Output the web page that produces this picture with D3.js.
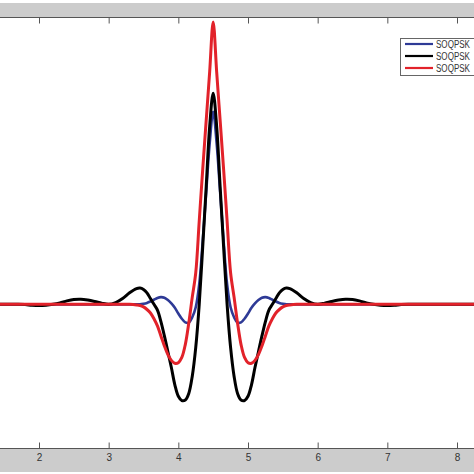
<!DOCTYPE html>
<html>
<head>
<meta charset="utf-8">
<script src="https://cdn.jsdelivr.net/npm/d3@7"></script>
<style>
  body { margin:0; padding:0; background:#fff; }
  svg { display:block; font-family:"Liberation Sans", Arial, sans-serif; }
</style>
</head>
<body>
<svg id="chart"></svg>
<script>
// sample positions (time axis)
var xs = [0.6, 0.9, 1.3, 1.7, 1.8, 1.9, 2.0, 2.1, 2.2, 2.3, 2.4, 2.5, 2.6, 2.7, 2.8, 2.9, 3.0, 3.1, 3.2, 3.3,
          3.4, 3.45, 3.5, 3.55, 3.6, 3.65, 3.7, 3.75, 3.8, 3.85, 3.9, 3.95, 4.0, 4.05, 4.1, 4.15, 4.2, 4.25, 4.3, 4.35, 4.4, 4.45,
          4.5,
          4.55, 4.6, 4.65, 4.7, 4.75, 4.8, 4.85, 4.9, 4.95, 5.0, 5.05, 5.1, 5.15, 5.2, 5.25, 5.3, 5.35, 5.4, 5.45, 5.5, 5.55, 5.6,
          5.7, 5.8, 5.9, 6.0, 6.1, 6.2, 6.3, 6.4, 6.5, 6.6, 6.7, 6.8, 6.9, 7.0, 7.1, 7.2, 7.3, 7.7, 8.1, 8.4];

var blueVals = [0, 0, 0, 0, 0, 0, 0, 0, 0, 0, 0, 0, 0, 0, 0, 0, 0, 0, 0, 0,
                0, 0, 0.002, 0.005, 0.01, 0.016, 0.022, 0.025, 0.023, 0.015, 0.003, -0.012, -0.032, -0.05, -0.063, -0.064, -0.045, -0.01, 0.07, 0.22, 0.39, 0.56,
                0.67,
                0.56, 0.39, 0.22, 0.07, -0.01, -0.045, -0.064, -0.063, -0.05, -0.032, -0.012, 0.003, 0.015, 0.023, 0.025, 0.022, 0.016, 0.01, 0.005, 0.002, 0, 0,
                0, 0, 0, 0, 0, 0, 0, 0, 0, 0, 0, 0, 0, 0, 0, 0, 0, 0, 0, 0];

var blackVals = [0, 0, 0, 0, -0.001, -0.003, -0.004, -0.003, 0.0, 0.005, 0.012, 0.017, 0.018, 0.015, 0.01, 0.004, 0.0, 0.006, 0.02, 0.04,
                 0.055, 0.057, 0.052, 0.04, 0.02, 0.0, -0.02, -0.06, -0.11, -0.165, -0.22, -0.28, -0.32, -0.335, -0.333, -0.31, -0.25, -0.15, 0.0, 0.20, 0.41, 0.62,
                 0.735,
                 0.62, 0.41, 0.20, 0.0, -0.15, -0.25, -0.31, -0.333, -0.335, -0.32, -0.28, -0.22, -0.165, -0.11, -0.06, -0.02, 0.0, 0.02, 0.04, 0.052, 0.057, 0.055,
                 0.04, 0.02, 0.006, 0.0, 0.004, 0.01, 0.015, 0.018, 0.017, 0.012, 0.005, 0.0, -0.003, -0.004, -0.003, -0.001, 0, 0, 0, 0];

var redVals = [0, 0, 0, 0, 0, 0, 0, 0, 0, 0, 0, 0, 0, 0, 0, 0, 0, 0, 0, 0,
               -0.002, -0.004, -0.009, -0.018, -0.03, -0.05, -0.075, -0.11, -0.145, -0.175, -0.195, -0.205, -0.203, -0.185, -0.14, -0.065, 0.025, 0.11, 0.29, 0.47, 0.64, 0.81,
               0.983,
               0.81, 0.64, 0.47, 0.29, 0.11, 0.025, -0.065, -0.14, -0.185, -0.203, -0.205, -0.195, -0.175, -0.145, -0.11, -0.075, -0.05, -0.03, -0.018, -0.009, -0.004, -0.002,
               0, 0, 0, 0, 0, 0, 0, 0, 0, 0, 0, 0, 0, 0, 0, 0, 0, 0, 0, 0];

// legend entries are cut at the picture edge, only "SOQPSK" is readable
var seriesNames = ["SOQPSK", "SOQPSK", "SOQPSK"];
var seriesColors = ["#2e3a96", "#000000", "#e2222a"];
var xTicks = [2, 3, 4, 5, 6, 7, 8];

var screen = {width:474, height:474};
var plot = {top:17, bottom:448};

var svg = d3.select("#chart")
    .attr("width", screen.width)
    .attr("height", screen.height);

// figure background (matlab grey) and white axes area
svg.append("rect").attr("x",0).attr("y",0).attr("width",screen.width).attr("height",screen.height).attr("fill","#fff");
svg.append("rect").attr("x",0).attr("y",3).attr("width",screen.width).attr("height",469).attr("fill","#cccccc");
svg.append("rect").attr("x",0).attr("y",plot.top).attr("width",screen.width).attr("height",plot.bottom-plot.top).attr("fill","#fff");

var xScale = d3.scaleLinear().domain([2, 8]).range([39, 457]);
var yScale = d3.scaleLinear().domain([-0.5, 1]).range([plot.bottom, plot.top]);

svg.append("clipPath").attr("id","clip")
    .append("rect").attr("x",0).attr("y",plot.top).attr("width",screen.width).attr("height",plot.bottom-plot.top);

var line = d3.line()
    .x(function(d){ return xScale(d[0]); })
    .y(function(d){ return yScale(d[1]); })
    .curve(d3.curveCatmullRom.alpha(0.5));

var allSeries = [blueVals, blackVals, redVals];
var lines = svg.append("g").attr("clip-path","url(#clip)");
allSeries.forEach(function(vals, i)
{
    var pts = xs.map(function(x, j){ return [x, vals[j]]; });
    lines.append("path")
        .datum(pts)
        .attr("d", line)
        .attr("fill","none")
        .attr("stroke", seriesColors[i])
        .attr("stroke-width", i == 0 ? 2.6 : 3)
        .attr("stroke-linejoin","round");
});

// axes frame lines
svg.append("line").attr("x1",0).attr("x2",screen.width).attr("y1",plot.top+0.5).attr("y2",plot.top+0.5)
    .attr("stroke","#555").attr("stroke-width",1);
svg.append("line").attr("x1",0).attr("x2",screen.width).attr("y1",plot.bottom+0.5).attr("y2",plot.bottom+0.5)
    .attr("stroke","#555").attr("stroke-width",1);

// bottom axis with inward ticks
var xAxis = d3.axisBottom(xScale).tickValues(xTicks).tickSize(-6).tickSizeOuter(0).tickPadding(5)
    .tickFormat(d3.format("d"));
var bottomAxis = svg.append("g")
    .attr("transform","translate(0,"+(plot.bottom+0.5)+")")
    .call(xAxis);
bottomAxis.select(".domain").remove();
bottomAxis.selectAll("line").attr("stroke","#555");
bottomAxis.selectAll("text").attr("fill","#333").style("font-size","10px").style("font-family","'Liberation Sans', Arial, sans-serif");

// top axis ticks, no labels
var topAxis = svg.append("g")
    .attr("transform","translate(0,"+(plot.top+0.5)+")")
    .call(d3.axisTop(xScale).tickValues(xTicks).tickSize(-6).tickSizeOuter(0).tickFormat(""));
topAxis.select(".domain").remove();
topAxis.selectAll("line").attr("stroke","#555");

// legend
var legend = svg.append("g").attr("transform","translate(400,38)");
legend.append("rect").attr("x",0.5).attr("y",0.5).attr("width",120).attr("height",37)
    .attr("fill","#fff").attr("stroke","#666").attr("stroke-width",1);
seriesNames.forEach(function(name, i)
{
    var y = 6 + i*12;
    legend.append("line").attr("x1",5).attr("x2",33).attr("y1",y).attr("y2",y)
        .attr("stroke",seriesColors[i]).attr("stroke-width",2.2);
    legend.append("text").attr("x",36).attr("y",y+3.5).text(name)
        .attr("textLength",34).attr("lengthAdjust","spacingAndGlyphs")
        .attr("fill","#333").style("font-size","10px");
});
</script>
</body>
</html>
